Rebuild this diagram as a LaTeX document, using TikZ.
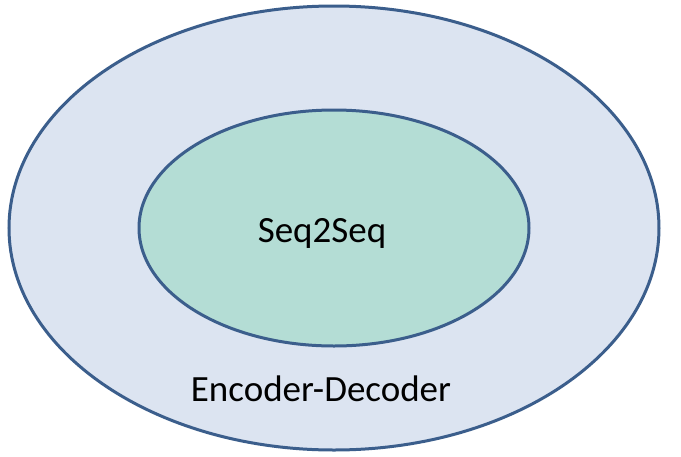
\documentclass[tikz,border=0pt]{standalone}
\usepackage{fontspec}
\setmainfont{Carlito}
\definecolor{outerfill}{HTML}{DCE4F1}
\definecolor{innerfill}{HTML}{B4DDD5}
\definecolor{edge}{HTML}{3B5E8C}
\begin{document}
\begin{tikzpicture}[x=1pt,y=-1pt,
  ring/.style={draw=edge,line width=3pt}]
\useasboundingbox[fill=white] (0,0) rectangle (681,456);
\draw[ring,fill=outerfill] (334,228) ellipse [x radius=325, y radius=222];
\draw[ring,fill=innerfill] (334,228) ellipse [x radius=195, y radius=118];
\node[font=\fontsize{37}{42}\selectfont] (inner) at (322,233) {Seq2Seq};
\node[font=\fontsize{37}{42}\selectfont] (outer) at (321,389) {Encoder-Decoder};
\end{tikzpicture}
\end{document}
